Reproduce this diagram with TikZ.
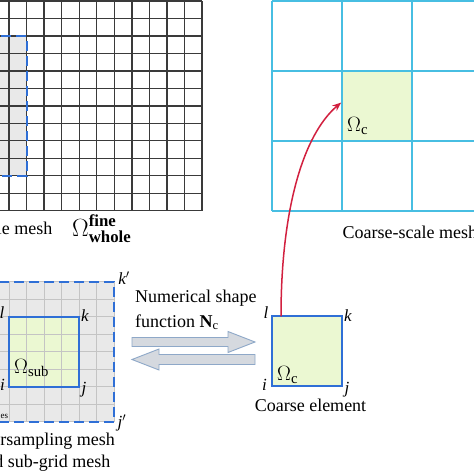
\documentclass[tikz,border=0pt]{standalone}
\usepackage{fontspec}
\setmainfont{Liberation Serif}
\usetikzlibrary{arrows.meta}
\definecolor{finegray}{HTML}{3A3A3A}
\definecolor{meshgray}{HTML}{E9E9E9}
\definecolor{subgray}{HTML}{C4C4C4}
\definecolor{dblue}{HTML}{2F6FD6}
\definecolor{cyanline}{HTML}{47BEE2}
\definecolor{lgreen}{HTML}{EBF8D2}
\definecolor{redarr}{HTML}{D2203F}
\definecolor{arrfill}{HTML}{D5D9DF}
\definecolor{arrdraw}{HTML}{8EA8C8}
\begin{document}
\begin{tikzpicture}[x=1pt,y=-1pt,
  fineline/.style={draw=finegray,line width=1.3pt},
  subline/.style={draw=subgray,line width=0.8pt},
  coarseline/.style={draw=cyanline,line width=2pt},
  dashbox/.style={draw=dblue,line width=2pt,dash pattern=on 10pt off 5pt},
  solidbox/.style={draw=dblue,line width=2pt},
  txt/.style={font=\fontsize{18}{21}\selectfont,inner sep=0pt},
  lab/.style={font=\fontsize{17}{20}\selectfont\itshape,inner sep=0pt},
  omega/.style={font=\fontsize{21}{24}\selectfont,inner sep=0pt},
  blockarrow/.style={fill=arrfill,draw=arrdraw,line width=0.9pt,line join=miter},
  redline/.style={draw=redarr,line width=1.5pt,-{Stealth[length=9pt,width=7pt]}}]
\useasboundingbox (0,0) rectangle (474,474);
\clip (0,0) rectangle (474,474);
\fill[white] (0,0) rectangle (474,474);

% ---------- fine-scale mesh ----------
\fill[meshgray] (-113.3,35.95) rectangle (26.55,175.8);
\foreach \i in {-4,...,11} \draw[fineline] ({9+17.55*\i},1) -- ({9+17.55*\i},210.7);
\foreach \k in {0,...,12} \draw[fineline] (-62,{1+17.475*\k}) -- (202.05,{1+17.475*\k});
\draw[dashbox] (-113.3,35.95) rectangle (26.55,175.8);
\node[txt,anchor=base east] (finelab) at (52.5,234) {Fine-scale mesh};
\node[omega,font=\fontsize{24}{26}\selectfont,anchor=base west] (finesym) at (72,236) {$\Omega^{\mathbf{fine}}_{\mathbf{whole}}$};

% ---------- coarse-scale mesh ----------
\fill[lgreen] (341.7,71) rectangle (411.7,141);
\foreach \x in {271.7,341.7,411.7,481.7} \draw[coarseline] (\x,1) -- (\x,211);
\foreach \y in {1,71,141,211} \draw[coarseline] (271.7,\y) -- (490,\y);
\node[omega,anchor=base west] (omc) at (347,131) {$\Omega_{\mathrm{c}}$};
\coordinate (tgt) at (341.2,102.5);
\node[txt,anchor=base west] (coarselab) at (342.5,238) {Coarse-scale mesh};

% ---------- oversampling mesh ----------
\fill[meshgray] (-25.7,281.7) rectangle (114.3,421.7);
\fill[lgreen] (9.3,316.7) rectangle (79.3,386.7);
\foreach \i in {-2,...,6} \draw[subline] ({9.3+17.5*\i},281.7) -- ({9.3+17.5*\i},421.7);
\foreach \i in {-2,...,6} \draw[subline] (-25.7,{316.7+17.5*\i}) -- (114.3,{316.7+17.5*\i});
\node[solidbox,minimum size=70pt,inner sep=0pt,outer sep=0pt] (sub) at (44.3,351.7) {};
\draw[dashbox] (-25.7,281.7) rectangle (114.3,421.7);
\node[omega,anchor=base west] (oms) at (14,373) {$\Omega_{\mathrm{sub}}$};
\node[lab] (sl) at (2,313) {l};
\node[lab] (sk) at (85,316) {k};
\node[lab] (si) at (2.5,385) {i};
\node[lab] (sj) at (84,390) {j};
\node[lab] (skp) at (124,278) {k$'$};
\node[lab] (sjp) at (122,423) {j$'$};
\node[font=\fontsize{9}{10}\selectfont,inner sep=0pt,anchor=base west] (es) at (0.5,418) {es};
\node[txt,anchor=base east] (overlab) at (115,445) {Oversampling mesh};
\node[txt,anchor=base east] (sublab) at (110.5,467) {and sub-grid mesh};

% ---------- block arrows ----------
\draw[blockarrow] (132,337.5) -- (228,337.5) -- (228,331.5) -- (255,342) -- (228,352.5) -- (228,346.5) -- (132,346.5) -- cycle;
\draw[blockarrow] (255,354.5) -- (159,354.5) -- (159,349) -- (132,359.5) -- (159,370) -- (159,364.5) -- (255,364.5) -- cycle;
\node[txt,anchor=base west] (nsf1) at (135,302) {Numerical shape};
\node[txt,anchor=base west] (nsf2) at (135,327) {function $\mathbf{N}_{\mathrm{c}}$};

% ---------- coarse element ----------
\node[solidbox,fill=lgreen,minimum size=70pt,inner sep=0pt,outer sep=0pt] (ce) at (306.7,351.35) {};
\node[omega,anchor=base west] (omce) at (277,380) {$\Omega_{\mathrm{c}}$};
\node[lab] (cl) at (266,313) {l};
\node[lab] (ck) at (348,316) {k};
\node[lab] (ci) at (264.5,385) {i};
\node[lab] (cj) at (347,390) {j};
\node[txt,anchor=base] (celab) at (310.5,411) {Coarse element};

% ---------- red arrow ----------
\draw[redline] ([xshift=9.3pt]ce.north west) .. controls (281,210) and (303,135) .. (tgt);
\end{tikzpicture}
\end{document}
